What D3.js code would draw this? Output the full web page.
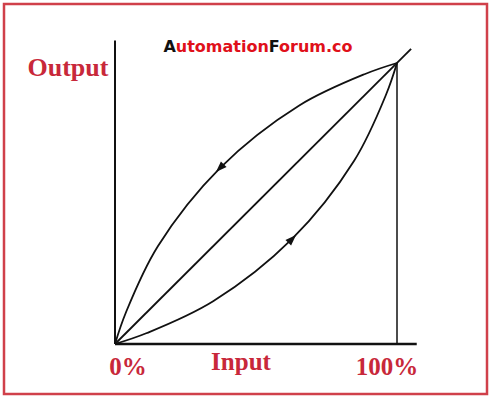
<!DOCTYPE html>
<html><head><meta charset="utf-8">
<script src="https://cdn.jsdelivr.net/npm/d3@7"></script>
<style>body{margin:0;background:#fff}</style></head>
<body><svg id="c" width="491" height="400"></svg>
<script>
const returnX = [0,3.9,15.2,37.3,65.2,88.7,100];
const returnY = [0,11.3,34.8,62.7,84.8,96.1,100];
const forwardX = [0,11.3,34.8,62.7,84.8,96.1,100];
const forwardY = [0,3.9,15.2,37.3,65.2,88.7,100];
const linearLine = [[0,0],[105,105]];
const tickLabels = ["0%","100%"];

const svg = d3.select("#c");
const x = d3.scaleLinear().domain([0,100]).range([115,397]);
const y = d3.scaleLinear().domain([0,100]).range([344,63]);
svg.append("rect").attr("x",4).attr("y",4).attr("width",483).attr("height",390)
  .attr("fill","none").attr("stroke","#d0404a").attr("stroke-width",2.5);
svg.append("line").attr("x1",x(0)).attr("y1",y(0)).attr("x2",x(0)).attr("y2",y(108)).attr("stroke","#111").attr("stroke-width",2);
svg.append("line").attr("x1",x(0)).attr("y1",y(0)).attr("x2",x(107)).attr("y2",y(0)).attr("stroke","#111").attr("stroke-width",2.5);
svg.append("line").attr("x1",x(100)).attr("y1",y(0)).attr("x2",x(100)).attr("y2",y(100)).attr("stroke","#111").attr("stroke-width",1.5);
const line = d3.line().x(d=>x(d[0])).y(d=>y(d[1])).curve(d3.curveCatmullRom.alpha(0.5));
svg.append("path").attr("d",line(linearLine)).attr("stroke","#111").attr("stroke-width",1.8).attr("fill","none");
const up = returnX.map((v,i)=>[v,returnY[i]]);
const lo = forwardX.map((v,i)=>[v,forwardY[i]]);
[up,lo].forEach(d=>svg.append("path").attr("d",line(d)).attr("stroke","#111").attr("stroke-width",1.8).attr("fill","none"));
function arrow(px,py,dx,dy){
  const a=Math.atan2(dy,dx)*180/Math.PI;
  svg.append("path").attr("d","M6,0 L-5,-4 L-5,4 Z").attr("fill","#111")
    .attr("transform",`translate(${px},${py}) rotate(${a})`);
}
arrow(x(returnX[3]),y(returnY[3]), x(0)-x(1), y(0)-y(1));
arrow(x(forwardX[3]),y(forwardY[3]), x(1)-x(0), y(1)-y(0));
const t = svg.append("text").attr("x",258).attr("y",52).attr("text-anchor","middle")
  .attr("font-family","'Comic Sans MS','DejaVu Sans',sans-serif").attr("font-size",16).attr("font-weight","bold");
t.append("tspan").attr("fill","#111").text("A");
t.append("tspan").attr("fill","#e0101a").text("utomation");
t.append("tspan").attr("fill","#111").text("F");
t.append("tspan").attr("fill","#e0101a").text("orum.co");
const red="#c8283a", ser="'Liberation Serif','DejaVu Serif',serif";
svg.append("text").attr("x",68).attr("y",76).attr("text-anchor","middle").attr("font-family",ser).attr("font-weight","bold").attr("font-size",26).attr("fill",red).text("Output");
svg.append("text").attr("x",241).attr("y",370).attr("text-anchor","middle").attr("font-family",ser).attr("font-weight","bold").attr("font-size",25).attr("fill",red).text("Input");
svg.append("text").attr("x",128).attr("y",375).attr("text-anchor","middle").attr("font-family",ser).attr("font-weight","bold").attr("font-size",25).attr("fill",red).text(tickLabels[0]);
svg.append("text").attr("x",387).attr("y",375).attr("text-anchor","middle").attr("font-family",ser).attr("font-weight","bold").attr("font-size",25).attr("fill",red).text(tickLabels[1]);
</script></body></html>
